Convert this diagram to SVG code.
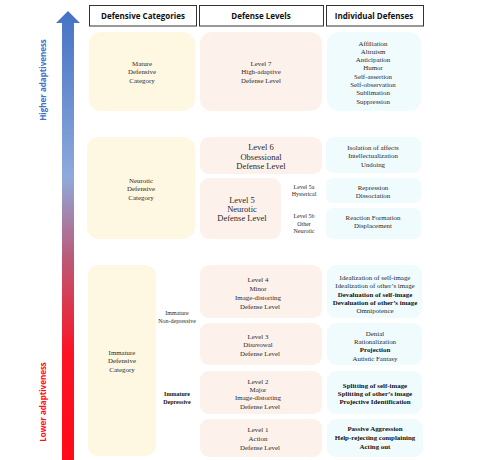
<svg xmlns="http://www.w3.org/2000/svg" width="480" height="460" viewBox="0 0 480 460">
<style>
.hd{fill:#fff;stroke:#333;stroke-width:1}
.ht{font-family:"Open Sans","Liberation Sans",sans-serif;font-weight:bold;font-size:8px;fill:#111;text-anchor:middle;dominant-baseline:central}
.y{fill:#fef8e2}
.p{fill:#fdf1ec}
.c{fill:#effbfd}
.t{font-family:"Liberation Serif","Times New Roman",serif;font-size:6.9px;fill:#2a2a2a;text-anchor:middle;dominant-baseline:central}
.tl{font-family:"Liberation Serif","Times New Roman",serif;font-size:8.5px;fill:#2a2a2a;text-anchor:middle;dominant-baseline:central}
.ts{font-family:"Liberation Serif","Times New Roman",serif;font-size:6px;fill:#2a2a2a;text-anchor:middle;dominant-baseline:central}
.b{font-weight:bold;fill:#111}
.ax{font-family:"Open Sans","Liberation Sans",sans-serif;font-weight:bold;font-size:8px;text-anchor:middle;dominant-baseline:central}
</style>
<defs>
<linearGradient id="g" gradientUnits="userSpaceOnUse" x1="0" y1="11" x2="0" y2="460">
<stop offset="0" stop-color="#4472c4"/>
<stop offset="0.37" stop-color="#8eaadb"/>
<stop offset="0.55" stop-color="#bb5a78"/>
<stop offset="0.76" stop-color="#fb1424"/>
<stop offset="1" stop-color="#ff0a18"/>
</linearGradient>
</defs>
<rect width="480" height="460" fill="#fff"/>
<g id="connectors">
<path d="M68,11 L80,23 L74,23 L74,460 L62,460 L62,23 L56,23 Z" fill="url(#g)"/>
</g>
<g id="axis-labels">
<text class="ax" fill="#4472c4" transform="translate(42,80) rotate(-90)">Higher adaptiveness</text>
<text class="ax" fill="#ff1020" transform="translate(42,402) rotate(-90)">Lower adaptiveness</text>
</g>
<g id="header-categories"><rect class="hd" x="89.5" y="5.5" width="107" height="20.5"/><text class="ht" x="143" y="15.5">Defensive Categories</text></g>
<g id="header-levels"><rect class="hd" x="199.5" y="5.5" width="124" height="20.5"/><text class="ht" x="261" y="15">Defense Levels</text></g>
<g id="header-individual"><rect class="hd" x="326.5" y="5.5" width="97" height="20.5"/><text class="ht" x="374" y="15">Individual Defenses</text></g>

<g id="mature"><rect class="y" x="89" y="32" width="106" height="79" rx="12"/>
<text class="t" x="142" y="63">Mature</text><text class="t" x="142" y="71.5">Defensive</text><text class="t" x="142" y="80">Category</text></g>
<g id="level7"><rect class="p" x="200" y="32" width="122" height="79" rx="12"/>
<text class="t" x="261" y="63">Level 7</text><text class="t" x="261" y="71.5">High-adaptive</text><text class="t" x="261" y="80">Defense Level</text></g>
<g id="defenses7"><rect class="c" x="327" y="32" width="94" height="79" rx="12"/>
<text class="t" x="373" y="43">Affiliation</text><text class="t" x="373" y="51">Altruism</text><text class="t" x="373" y="59.5">Anticipation</text><text class="t" x="373" y="67.5">Humor</text><text class="t" x="373" y="76">Self-assertion</text><text class="t" x="373" y="84">Self-observation</text><text class="t" x="373" y="92.5">Sublimation</text><text class="t" x="373" y="101">Suppression</text></g>

<g id="neurotic"><rect class="y" x="87" y="137" width="108" height="102" rx="12"/>
<text class="t" x="141" y="180">Neurotic</text><text class="t" x="141" y="188.5">Defensive</text><text class="t" x="141" y="197">Category</text></g>
<g id="level6"><rect class="p" x="200" y="137" width="122" height="37" rx="9"/>
<text class="tl" x="261" y="147">Level 6</text><text class="tl" x="261" y="156.5">Obsessional</text><text class="tl" x="261" y="166">Defense Level</text></g>
<g id="defenses6"><rect class="c" x="326" y="137" width="95" height="36" rx="8"/>
<text class="t" x="373" y="147">Isolation of affects</text><text class="t" x="373" y="155.5">Intellectualization</text><text class="t" x="373" y="164">Undoing</text></g>
<g id="level5"><rect class="p" x="200" y="178" width="81" height="61" rx="9"/>
<text class="tl" x="242" y="200">Level 5</text><text class="tl" x="242" y="209">Neurotic</text><text class="tl" x="242" y="218">Defense Level</text></g>
<g id="level5a"><text class="ts" x="304" y="187">Level 5a</text><text class="ts" x="304" y="194">Hysterical</text></g>
<g id="level5b"><text class="ts" x="304" y="216">Level 5b</text><text class="ts" x="304" y="223.5">Other</text><text class="ts" x="304" y="231">Neurotic</text></g>
<g id="defenses5a"><rect class="c" x="326" y="178" width="95" height="25" rx="7"/>
<text class="t" x="373" y="187">Repression</text><text class="t" x="373" y="195">Dissociation</text></g>
<g id="defenses5b"><rect class="c" x="326" y="208" width="95" height="31" rx="7"/>
<text class="t" x="373" y="217">Reaction Formation</text><text class="t" x="373" y="225">Displacement</text></g>

<g id="immature"><rect class="y" x="88" y="265" width="68" height="191" rx="11"/>
<text class="t" x="122" y="352">Immature</text><text class="t" x="122" y="360.5">Defensive</text><text class="t" x="122" y="369">Category</text></g>
<g id="nondepressive"><text class="ts" x="177" y="313">Immature</text><text class="ts" x="177" y="321">Non-depressive</text></g>
<g id="depressive"><text class="ts b" x="177" y="394">Immature</text><text class="ts b" x="177" y="402">Depressive</text></g>
<g id="level4"><rect class="p" x="200" y="265" width="122" height="53" rx="9"/>
<text class="t" x="258" y="279">Level 4</text><text class="t" x="258" y="288">Minor</text><text class="t" x="258" y="297">Image-distorting</text><text class="t" x="260" y="306">Defense Level</text></g>
<g id="defenses4"><rect class="c" x="327" y="265" width="95" height="53" rx="9"/>
<text class="t" x="375" y="277">Idealization of self-image</text><text class="t" x="375" y="285.5">Idealization of other’s image</text><text class="t b" x="375" y="294">Devaluation of self-image</text><text class="t b" x="375" y="302.5">Devaluation of other’s image</text><text class="t" x="375" y="310.5">Omnipotence</text></g>
<g id="level3"><rect class="p" x="200" y="323" width="122" height="42" rx="9"/>
<text class="t" x="258" y="336">Level 3</text><text class="t" x="258" y="344.5">Disavowal</text><text class="t" x="260" y="353">Defense Level</text></g>
<g id="defenses3"><rect class="c" x="327" y="323" width="95" height="42" rx="9"/>
<text class="t" x="375" y="333">Denial</text><text class="t" x="375" y="341">Rationalization</text><text class="t b" x="375" y="349.5">Projection</text><text class="t" x="375" y="358">Autistic Fantasy</text></g>
<g id="level2"><rect class="p" x="200" y="371" width="122" height="43" rx="9"/>
<text class="t" x="258" y="381">Level 2</text><text class="t" x="258" y="389">Major</text><text class="t" x="258" y="397.5">Image-distorting</text><text class="t" x="260" y="406">Defense Level</text></g>
<g id="defenses2"><rect class="c" x="327" y="371" width="95" height="43" rx="9"/>
<text class="t b" x="375" y="385">Splitting of self-image</text><text class="t b" x="375" y="393">Splitting of other’s image</text><text class="t b" x="375" y="401">Projective Identification</text></g>
<g id="level1"><rect class="p" x="200" y="419" width="122" height="38" rx="9"/>
<text class="t" x="258" y="429">Level 1</text><text class="t" x="258" y="438.5">Action</text><text class="t" x="260" y="447">Defense Level</text></g>
<g id="defenses1"><rect class="c" x="327" y="419" width="96" height="38" rx="9"/>
<text class="t b" x="375" y="428">Passive Aggression</text><text class="t b" x="375" y="437">Help-rejecting complaining</text><text class="t b" x="375" y="446">Acting out</text></g>
</svg>
